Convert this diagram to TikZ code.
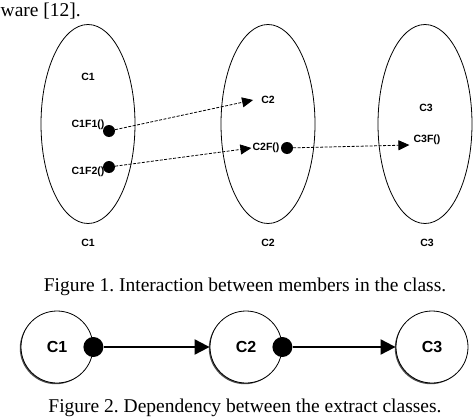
\documentclass[tikz,border=0pt]{standalone}
\usepackage{fontspec}
\setmainfont{Liberation Serif}
\newfontfamily\lblfont{Liberation Sans}
\usepackage{tikz}
\usetikzlibrary{arrows.meta,positioning,shapes.geometric,shadows}
\frenchspacing

\begin{document}
\begin{tikzpicture}[x=1pt, y=-1pt,
    cls/.style={draw, ellipse, thick, minimum width=94pt, minimum height=199pt, inner sep=0pt},
    lbl/.style={font=\lblfont\bfseries\fontsize{10.5}{11}\selectfont, inner sep=1pt},
    biglbl/.style={font=\lblfont\bfseries\fontsize{16}{17}\selectfont, inner sep=1pt},
    dot/.style={circle, fill=black, inner sep=0pt, minimum size=12pt},
    call/.style={-{Triangle[length=11pt, width=10pt]}, thick, dash pattern=on 3pt off 1.5pt},
    ring/.style={draw, circle, thick, fill=white, minimum size=72pt, inner sep=0pt,
        drop shadow={shadow xshift=-1.2pt, shadow yshift=-1.2pt, fill=black!70, opacity=1}},
    bigdot/.style={circle, fill=black, inner sep=0pt, minimum size=20pt},
    dep/.style={-{Triangle[length=15pt, width=15pt]}, line width=2pt},
    caption/.style={font=\fontsize{19.5}{21}\selectfont, inner sep=0pt}
]
\useasboundingbox (0,0) rectangle (474,420);

\node[caption, anchor=base east] (prev) at (81,17) {ware [12].};

% figure 1
\node[cls] (e1) at (88,124) {};
\node[cls] (e2) at (268,124) {};
\node[cls] (e3) at (425,124) {};

\node[lbl] (c1in) at (88,77) {C1};
\node[lbl] (c1f1) at (88,125) {C1F1()};
\node[lbl] (c1f2) at (88,172) {C1F2()};
\node[dot] (d11) at (109,131) {};
\node[dot] (d12) at (109,167) {};

\node[lbl] (c2in) at (268,100) {C2};
\node[lbl] (c2f) at (266,148) {C2F()};
\node[dot] (d2) at (287,148) {};

\node[lbl] (c3in) at (426,108) {C3};
\node[lbl] (c3f) at (427,140) {C3F()};

\node[lbl] (c1out) at (88,243) {C1};
\node[lbl] (c2out) at (268,243) {C2};
\node[lbl] (c3out) at (427,243) {C3};

\draw[call] (d11) -- ([xshift=-7pt]c2in.west);
\draw[call] (d12) -- (c2f.west);
\draw[call] (d2) -- ([xshift=-3pt, yshift=-5pt]c3f.west);

\node[caption] (cap1) at (245,287) {Figure 1. Interaction between members in the class.};

% figure 2
\node[ring] (r1) at (57,347) {};
\node[ring] (r2) at (246,347) {};
\node[ring] (r3) at (432,347) {};
\node[biglbl] at (r1) {C1};
\node[biglbl] at (r2) {C2};
\node[biglbl] at (r3) {C3};
\node[bigdot] (b1) at (r1.east) {};
\node[bigdot] (b2) at (r2.east) {};

\draw[dep] (b1) -- (r2);
\draw[dep] (b2) -- (r3);

\node[caption] (cap2) at (245,408) {Figure 2. Dependency between the extract classes.};
\end{tikzpicture}
\end{document}
